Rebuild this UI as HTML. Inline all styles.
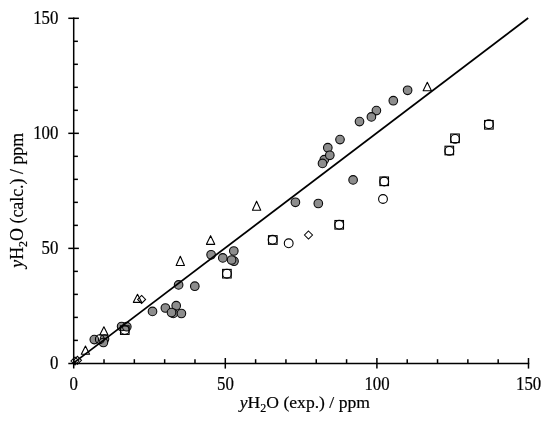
<!DOCTYPE html>
<html><head><meta charset="utf-8"><title>yH2O calc vs exp</title>
<style>html,body{margin:0;padding:0;background:#fff}svg{display:block}text{font-family:"Liberation Serif","Times New Roman",serif;fill:#000;stroke:#000;stroke-width:0.2px}</style></head><body>
<svg width="550" height="423" viewBox="0 0 550 423">
<rect width="550" height="423" fill="#fff"/>
<g stroke="#000" stroke-width="1.5" fill="none" stroke-linecap="butt">
<line x1="73.7" y1="17.55" x2="73.7" y2="368.60"/>
<line x1="68.30" y1="363.4" x2="529.25" y2="363.4"/>
<line x1="104.02" y1="359.20" x2="104.02" y2="363.4"/>
<line x1="73.7" y1="340.39" x2="77.90" y2="340.39"/>
<line x1="134.34" y1="359.20" x2="134.34" y2="363.4"/>
<line x1="73.7" y1="317.39" x2="77.90" y2="317.39"/>
<line x1="164.66" y1="359.20" x2="164.66" y2="363.4"/>
<line x1="73.7" y1="294.38" x2="77.90" y2="294.38"/>
<line x1="194.98" y1="359.20" x2="194.98" y2="363.4"/>
<line x1="73.7" y1="271.37" x2="77.90" y2="271.37"/>
<line x1="225.30" y1="358.00" x2="225.30" y2="368.60"/>
<line x1="68.30" y1="248.37" x2="78.90" y2="248.37"/>
<line x1="255.62" y1="359.20" x2="255.62" y2="363.4"/>
<line x1="73.7" y1="225.36" x2="77.90" y2="225.36"/>
<line x1="285.94" y1="359.20" x2="285.94" y2="363.4"/>
<line x1="73.7" y1="202.35" x2="77.90" y2="202.35"/>
<line x1="316.26" y1="359.20" x2="316.26" y2="363.4"/>
<line x1="73.7" y1="179.35" x2="77.90" y2="179.35"/>
<line x1="346.58" y1="359.20" x2="346.58" y2="363.4"/>
<line x1="73.7" y1="156.34" x2="77.90" y2="156.34"/>
<line x1="376.90" y1="358.00" x2="376.90" y2="368.60"/>
<line x1="68.30" y1="133.33" x2="78.90" y2="133.33"/>
<line x1="407.22" y1="359.20" x2="407.22" y2="363.4"/>
<line x1="73.7" y1="110.33" x2="77.90" y2="110.33"/>
<line x1="437.54" y1="359.20" x2="437.54" y2="363.4"/>
<line x1="73.7" y1="87.32" x2="77.90" y2="87.32"/>
<line x1="467.86" y1="359.20" x2="467.86" y2="363.4"/>
<line x1="73.7" y1="64.31" x2="77.90" y2="64.31"/>
<line x1="498.18" y1="359.20" x2="498.18" y2="363.4"/>
<line x1="73.7" y1="41.31" x2="77.90" y2="41.31"/>
<line x1="528.50" y1="358.00" x2="528.50" y2="368.60"/>
<line x1="68.30" y1="18.30" x2="78.90" y2="18.30"/>
</g>
<g stroke="#0a0a0a" stroke-width="1.1" fill="#8d8d8d">
<circle cx="94.3" cy="339.60" r="4.3"/>
<circle cx="104.5" cy="339.00" r="4.3"/>
<circle cx="103.4" cy="342.50" r="4.3"/>
<circle cx="121.6" cy="326.50" r="4.3"/>
<circle cx="126.8" cy="326.70" r="4.3"/>
<circle cx="152.5" cy="311.40" r="4.3"/>
<circle cx="165.4" cy="308.00" r="4.3"/>
<circle cx="176.2" cy="305.70" r="4.3"/>
<circle cx="173.3" cy="313.40" r="4.3"/>
<circle cx="181.4" cy="313.50" r="4.3"/>
<circle cx="171.5" cy="312.60" r="4.3"/>
<circle cx="178.6" cy="284.90" r="4.3"/>
<circle cx="194.8" cy="286.20" r="4.3"/>
<circle cx="211.1" cy="254.80" r="4.3"/>
<circle cx="222.8" cy="257.90" r="4.3"/>
<circle cx="233.8" cy="251.00" r="4.3"/>
<circle cx="234.0" cy="261.20" r="4.3"/>
<circle cx="231.6" cy="260.00" r="4.3"/>
<circle cx="295.4" cy="202.30" r="4.3"/>
<circle cx="318.3" cy="203.50" r="4.3"/>
<circle cx="324.3" cy="159.70" r="4.3"/>
<circle cx="322.5" cy="163.40" r="4.3"/>
<circle cx="327.8" cy="147.70" r="4.3"/>
<circle cx="329.8" cy="155.30" r="4.3"/>
<circle cx="340.0" cy="139.60" r="4.3"/>
<circle cx="353.1" cy="179.90" r="4.3"/>
<circle cx="359.5" cy="121.60" r="4.3"/>
<circle cx="376.4" cy="110.60" r="4.3"/>
<circle cx="371.4" cy="116.90" r="4.3"/>
<circle cx="393.3" cy="100.70" r="4.3"/>
<circle cx="407.6" cy="90.30" r="4.3"/>
</g>
<g stroke="#000" stroke-width="1.1" fill="none" stroke-linejoin="miter">
<rect x="120.50" y="325.80" width="8.6" height="8.6"/>
<rect x="222.60" y="269.40" width="8.6" height="8.6"/>
<rect x="268.50" y="235.70" width="8.6" height="8.6"/>
<rect x="334.90" y="220.50" width="8.6" height="8.6"/>
<rect x="379.90" y="177.00" width="8.6" height="8.6"/>
<rect x="445.00" y="146.20" width="8.6" height="8.6"/>
<rect x="450.70" y="134.00" width="8.6" height="8.6"/>
<rect x="484.60" y="120.50" width="8.6" height="8.6"/>
<circle cx="124.8" cy="330.1" r="4.4"/>
<circle cx="226.9" cy="273.7" r="4.4"/>
<circle cx="272.6" cy="239.8" r="4.4"/>
<circle cx="339.2" cy="224.8" r="4.4"/>
<circle cx="384.2" cy="181.5" r="4.4"/>
<circle cx="449.3" cy="150.9" r="4.4"/>
<circle cx="455.1" cy="138.9" r="4.4"/>
<circle cx="488.8" cy="124.2" r="4.4"/>
</g>
<g stroke="#000" stroke-width="1.1" fill="none">
<circle cx="99.8" cy="339.2" r="4.4"/>
<circle cx="288.7" cy="243.3" r="4.4"/>
<circle cx="383.0" cy="199.0" r="4.4"/>
</g><g stroke="#000" stroke-width="1.05" fill="none" stroke-linejoin="miter">
<path d="M75.00 357.00L79.00 361.00L75.00 365.00L71.00 361.00Z"/>
<path d="M77.50 356.30L81.50 360.30L77.50 364.30L73.50 360.30Z"/>
<path d="M141.60 295.40L145.60 299.40L141.60 303.40L137.60 299.40Z"/>
<path d="M308.50 231.00L312.50 235.00L308.50 239.00L304.50 235.00Z"/>
</g>
<g stroke="#000" stroke-width="1.1" fill="none" stroke-linejoin="round">
<path d="M85.45 346.05L89.60 354.25L81.30 354.25Z"/>
<path d="M103.90 326.75L108.05 334.95L99.75 334.95Z"/>
<path d="M137.50 294.25L141.65 302.35L133.35 302.35Z"/>
<path d="M180.30 256.35L184.45 265.45L176.15 265.45Z"/>
<path d="M210.60 235.65L214.75 244.35L206.45 244.35Z"/>
<path d="M256.60 201.15L260.75 210.25L252.45 210.25Z"/>
<path d="M427.30 82.25L431.45 90.75L423.15 90.75Z"/>
</g>
<line x1="73.7" y1="362.90" x2="528.20" y2="18.00" stroke="#000" stroke-width="1.75"/>
<g font-size="16.8">
<text transform="translate(73.80 389.8) scale(1 1.06)" text-anchor="middle">0</text>
<text transform="translate(58.4 369.20) scale(1 1.06)" text-anchor="end">0</text>
<text transform="translate(225.40 389.8) scale(1 1.06)" text-anchor="middle">50</text>
<text transform="translate(58.4 254.17) scale(1 1.06)" text-anchor="end">50</text>
<text transform="translate(377.00 389.8) scale(1 1.06)" text-anchor="middle">100</text>
<text transform="translate(58.4 139.13) scale(1 1.06)" text-anchor="end">100</text>
<text transform="translate(528.60 389.8) scale(1 1.06)" text-anchor="middle">150</text>
<text transform="translate(58.4 24.10) scale(1 1.06)" text-anchor="end">150</text>
</g>
<text x="239.8" y="407.8" font-size="17.6"><tspan font-style="italic">y</tspan>H<tspan font-size="12" dy="4">2</tspan><tspan dy="-4">O (exp.) / ppm</tspan></text>
<text transform="translate(23.1 267.7) rotate(-90)" font-size="17.85"><tspan font-style="italic">y</tspan>H<tspan font-size="12" dy="4">2</tspan><tspan dy="-4">O (calc.) / ppm</tspan></text>
</svg></body></html>
